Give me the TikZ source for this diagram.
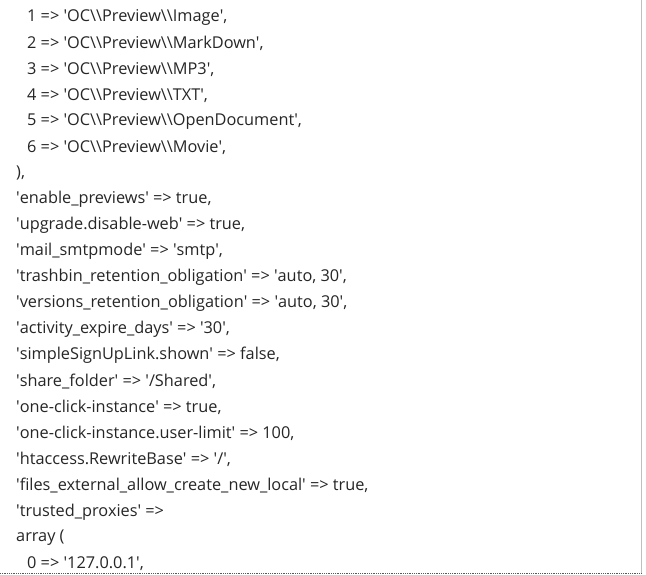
\documentclass[tikz,border=0pt]{standalone}
\usepackage{fontspec}
\setmainfont{Open Sans}
\begin{document}
\begin{tikzpicture}[x=1pt,y=-1pt,
  ln/.style={anchor=west,inner sep=0pt,font=\fontsize{16.3}{18}\selectfont,text=black!85}]
\useasboundingbox (0,0) rectangle (646,575);
\fill[white] (0,0) rectangle (646,575);
\draw[black!25] (641,0) -- (641,573);
\draw[blue!60!cyan,densely dotted,line width=0.8pt] (0,573.5) -- (641,573.5);
\def\dy{26.05}
\def\q{\textquotesingle}
\def\bs{\textbackslash\textbackslash}
\foreach \t [count=\i] in {
 {\hspace*{11pt}1 => \q OC\bs Preview\bs Image\q,},
 {\hspace*{11pt}2 => \q OC\bs Preview\bs MarkDown\q,},
 {\hspace*{11pt}3 => \q OC\bs Preview\bs MP3\q,},
 {\hspace*{11pt}4 => \q OC\bs Preview\bs TXT\q,},
 {\hspace*{11pt}5 => \q OC\bs Preview\bs OpenDocument\q,},
 {\hspace*{11pt}6 => \q OC\bs Preview\bs Movie\q,},
 {),},
 {\q enable\_previews\q{} => true,},
 {\q upgrade.disable-web\q{} => true,},
 {\q mail\_smtpmode\q{} => \q smtp\q,},
 {\q trashbin\_retention\_obligation\q{} => \q auto, 30\q,},
 {\q versions\_retention\_obligation\q{} => \q auto, 30\q,},
 {\q activity\_expire\_days\q{} => \q 30\q,},
 {\q simpleSignUpLink.shown\q{} => false,},
 {\q share\_folder\q{} => \q/Shared\q,},
 {\q one-click-instance\q{} => true,},
 {\q one-click-instance.user-limit\q{} => 100,},
 {\q htaccess.RewriteBase\q{} => \q/\q,},
 {\q files\_external\_allow\_create\_new\_local\q{} => true,},
 {\q trusted\_proxies\q{} =>},
 {array (},
 {\hspace*{11pt}0 => \q 127.0.0.1\q,}}
 \node[ln] (l\i) at (16,{17+(\i-1)*\dy}) {\t};
\end{tikzpicture}
\end{document}
